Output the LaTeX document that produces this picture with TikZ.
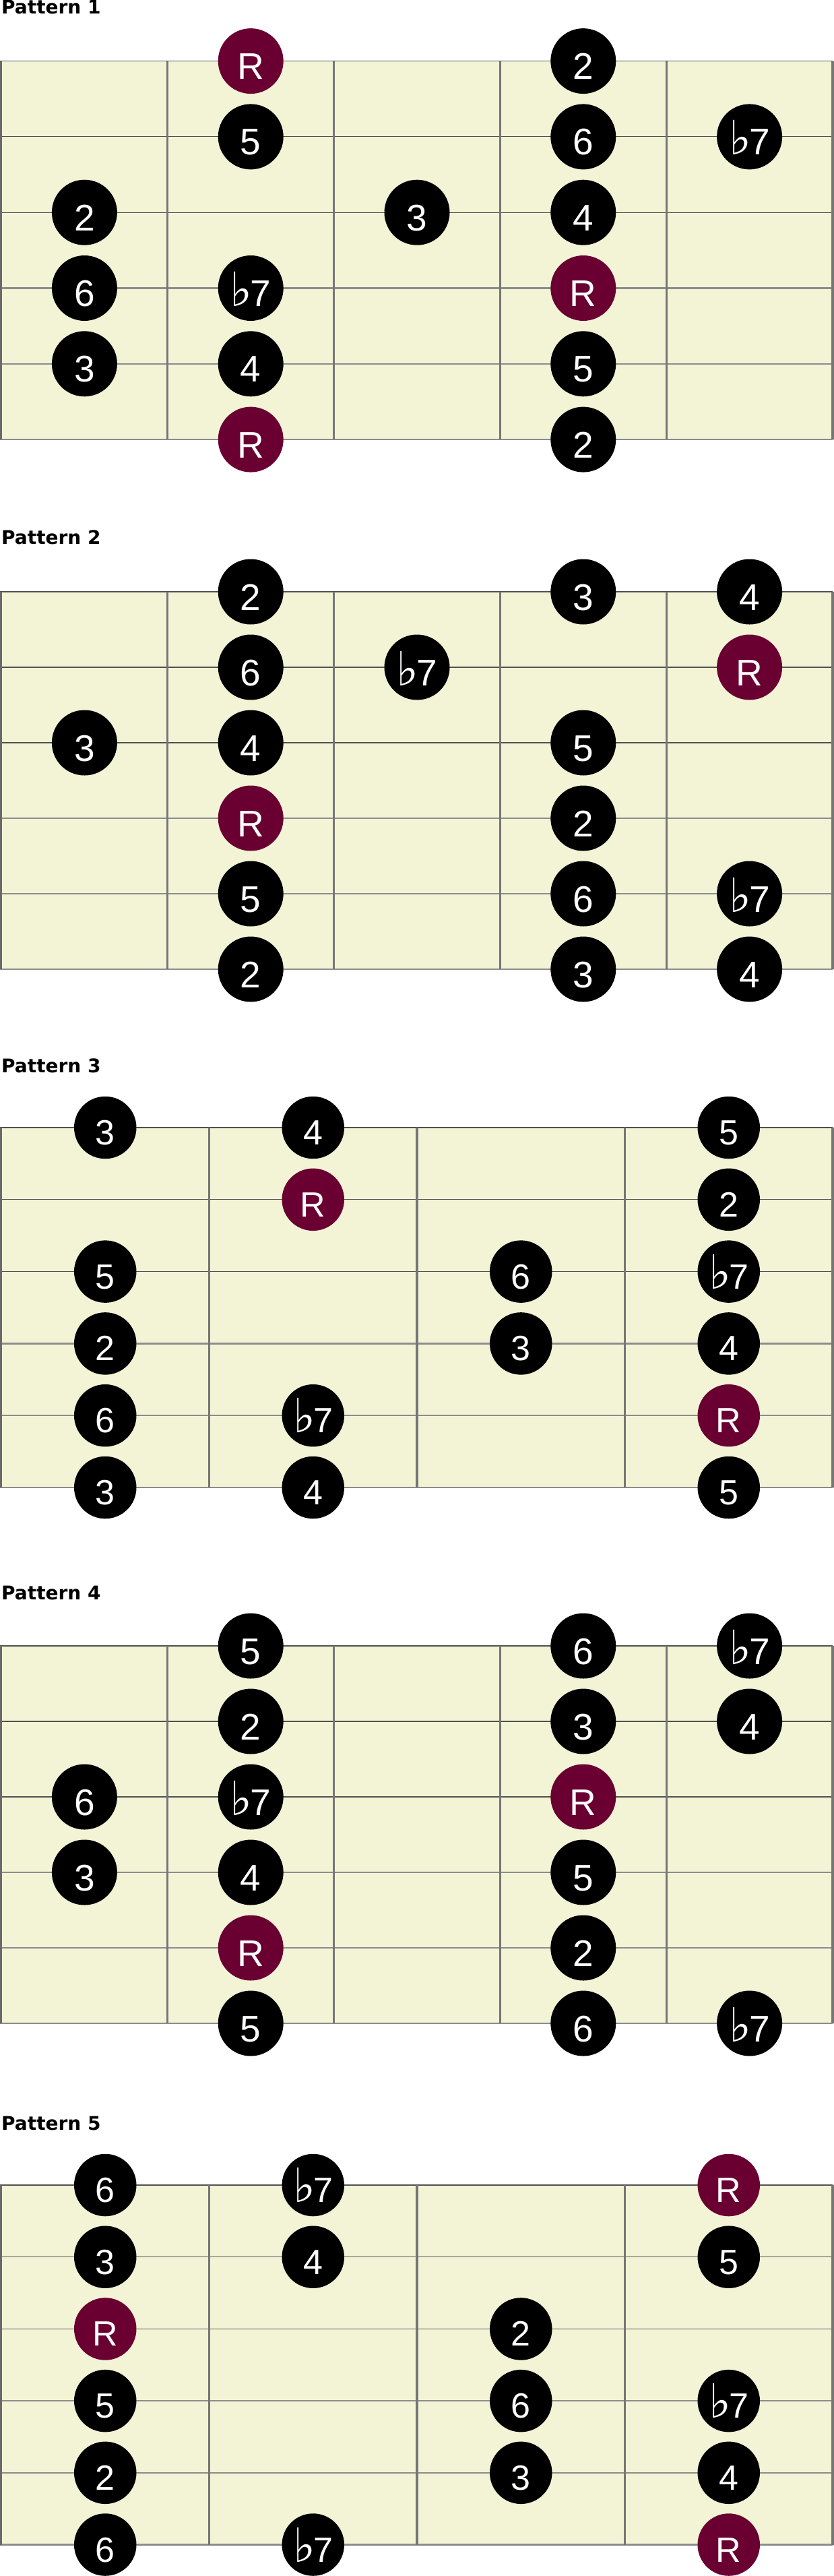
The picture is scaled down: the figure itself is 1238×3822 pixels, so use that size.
\documentclass[tikz,border=0pt]{standalone}
\usepackage{fontspec}
\newfontfamily\notefamily{Liberation Sans}
\newfontfamily\flatfamily{DejaVu Sans}
\newfontfamily\titlefamily{DejaVu Sans}

\definecolor{neckcream}{RGB}{243,244,214}
\definecolor{fretgray}{RGB}{118,118,118}
\definecolor{stringdark}{RGB}{80,80,80}
\definecolor{stringgray}{RGB}{140,140,140}
\definecolor{rootred}{RGB}{106,0,50}

\newcommand{\fl}{{\flatfamily\fontsize{70}{70}\selectfont ♭\kern-3pt}}

\tikzset{
  neck/.style={fill=neckcream},
  fretline/.style={draw=fretgray,line width=3.3pt},
  nutline/.style={draw=fretgray!90!black,line width=3.4pt},
  plainstring/.style={draw=stringdark,line width=1.1pt},
  woundstring/.style={draw=stringgray,line width=2.4pt},
  note/.style={circle,fill=black,text=white,inner sep=0pt,minimum size=97pt,
    text height=54pt,text depth=0pt,font=\notefamily\fontsize{55}{55}\selectfont},
  smallnote/.style={note,minimum size=92.5pt,text height=51pt,
    font=\notefamily\fontsize{52}{52}\selectfont},
  root/.style={fill=rootred},
  title/.style={anchor=base west,inner sep=0pt,
    font=\titlefamily\bfseries\fontsize{28}{28}\selectfont}
}

% fretboard: top y, string gap, frets, fret width
\newcommand{\fretboard}[4]{
  \fill[neck] (2,#1) rectangle ({2+#3*#4},{#1+5*#2});
  \foreach \s in {0,1,2}
    \draw[plainstring] (0,{#1+\s*#2}) -- ({2+#3*#4},{#1+\s*#2});
  \foreach \s in {3,4,5}
    \draw[woundstring] (0,{#1+\s*#2}) -- ({2+#3*#4},{#1+\s*#2});
  \foreach \k in {1,...,#3}
    \draw[fretline] ({2+\k*#4},#1) -- ({2+\k*#4},{#1+5*#2});
  \draw[nutline] (1.7,#1) -- (1.7,{#1+5*#2});
}

\begin{document}
\begin{tikzpicture}[x=1pt,y=-1pt]
  \useasboundingbox (0,0) rectangle (1238,3822);

  % Pattern 1
  \node[title] (title1) at (2,21) {Pattern 1};
  \fretboard{90.6}{112.3}{5}{246.8}
  \foreach \c/\s/\t in {1/3/2,1/4/6,1/5/3,2/2/5,2/4/\fl7,2/5/4,3/3/3,4/1/2,4/2/6,4/3/4,4/5/5,4/6/2,5/2/\fl7}
    \node[note] (p1-\c-\s) at ({2+(\c-0.5)*246.8},{90.6+(\s-1)*112.3}) {\t};
  \foreach \c/\s in {2/1,2/6,4/4}
    \node[note,root] (p1-\c-\s) at ({2+(\c-0.5)*246.8},{90.6+(\s-1)*112.3}) {R};

  % Pattern 2
  \node[title] (title2) at (2,807) {Pattern 2};
  \fretboard{878}{112}{5}{246.8}
  \foreach \c/\s/\t in {1/3/3,2/1/2,2/2/6,2/3/4,2/5/5,2/6/2,3/2/\fl7,4/1/3,4/3/5,4/4/2,4/5/6,4/6/3,5/1/4,5/5/\fl7,5/6/4}
    \node[note] (p2-\c-\s) at ({2+(\c-0.5)*246.8},{878+(\s-1)*112}) {\t};
  \foreach \c/\s in {2/4,5/2}
    \node[note,root] (p2-\c-\s) at ({2+(\c-0.5)*246.8},{878+(\s-1)*112}) {R};

  % Pattern 3
  \node[title] (title3) at (2,1591) {Pattern 3};
  \fretboard{1673}{106.8}{4}{308.5}
  \foreach \c/\s/\t in {1/1/3,1/3/5,1/4/2,1/5/6,1/6/3,2/1/4,2/5/\fl7,2/6/4,3/3/6,3/4/3,4/1/5,4/2/2,4/3/\fl7,4/4/4,4/6/5}
    \node[smallnote] (p3-\c-\s) at ({2+(\c-0.5)*308.5},{1673+(\s-1)*106.8}) {\t};
  \foreach \c/\s in {2/2,4/5}
    \node[smallnote,root] (p3-\c-\s) at ({2+(\c-0.5)*308.5},{1673+(\s-1)*106.8}) {R};

  % Pattern 4
  \node[title] (title4) at (2,2373) {Pattern 4};
  \fretboard{2442}{112}{5}{246.8}
  \foreach \c/\s/\t in {1/3/6,1/4/3,2/1/5,2/2/2,2/3/\fl7,2/4/4,2/6/5,4/1/6,4/2/3,4/4/5,4/5/2,4/6/6,5/1/\fl7,5/2/4,5/6/\fl7}
    \node[note] (p4-\c-\s) at ({2+(\c-0.5)*246.8},{2442+(\s-1)*112}) {\t};
  \foreach \c/\s in {2/5,4/3}
    \node[note,root] (p4-\c-\s) at ({2+(\c-0.5)*246.8},{2442+(\s-1)*112}) {R};

  % Pattern 5
  \node[title] (title5) at (2,3160) {Pattern 5};
  \fretboard{3242}{106.7}{4}{308.5}
  \foreach \c/\s/\t in {1/1/6,1/2/3,1/4/5,1/5/2,1/6/6,2/1/\fl7,2/2/4,2/6/\fl7,3/3/2,3/4/6,3/5/3,4/2/5,4/4/\fl7,4/5/4}
    \node[smallnote] (p5-\c-\s) at ({2+(\c-0.5)*308.5},{3242+(\s-1)*106.7}) {\t};
  \foreach \c/\s in {1/3,4/1,4/6}
    \node[smallnote,root] (p5-\c-\s) at ({2+(\c-0.5)*308.5},{3242+(\s-1)*106.7}) {R};
\end{tikzpicture}
\end{document}
